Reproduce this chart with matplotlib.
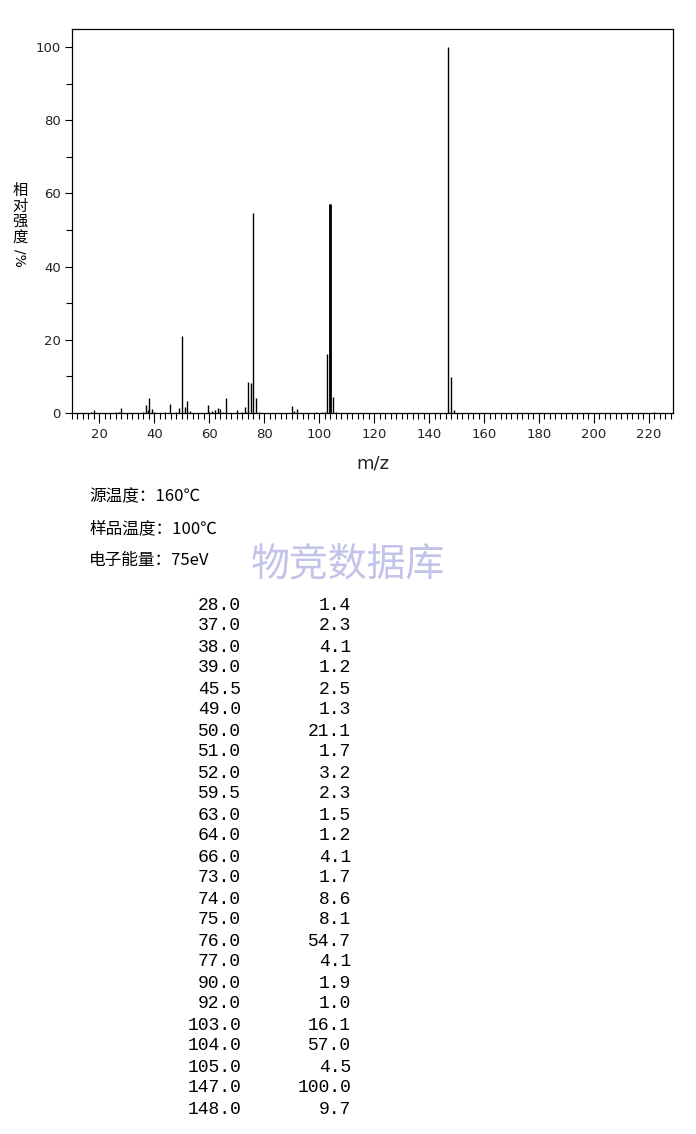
import matplotlib
matplotlib.use("Agg")
import matplotlib.pyplot as plt
from matplotlib.ticker import MultipleLocator

plt.rcParams['font.family'] = ['Noto Sans CJK SC', 'DejaVu Sans']

# peaks listed in the table
mz = [28.0, 37.0, 38.0, 39.0, 45.5, 49.0, 50.0, 51.0, 52.0, 59.5, 63.0, 64.0,
      66.0, 73.0, 74.0, 75.0, 76.0, 77.0, 90.0, 92.0, 103.0, 104.0, 105.0,
      147.0, 148.0]
intensity = [1.4, 2.3, 4.1, 1.2, 2.5, 1.3, 21.1, 1.7, 3.2, 2.3, 1.5, 1.2,
             4.1, 1.7, 8.6, 8.1, 54.7, 4.1, 1.9, 1.0, 16.1, 57.0, 4.5,
             100.0, 9.7]

# small peaks drawn in the spectrum but not listed
minor_mz = [17, 18, 26, 27, 36, 37.5, 40, 44, 48, 53, 60, 61, 62, 65, 70, 72,
            73.5, 78, 91, 99, 101, 102, 106, 149, 222]
minor_int = [0.35, 0.9, 0.35, 0.35, 0.3, 0.8, 0.2, 0.35, 0.4, 0.45, 0.35, 0.55,
             0.8, 0.35, 0.8, 0.35, 0.35, 0.3, 0.5, 0.3, 0.3, 0.3, 0.3, 0.7, 0.3]

conditions = ["源温度：160℃", "样品温度：100℃", "电子能量：75eV"]
ylabel_chars = ["相", "对", "强", "度"]

fig = plt.figure(figsize=(6.96, 11.34), dpi=100)
ax = fig.add_axes([72 / 696, 1 - 413 / 1134, 601 / 696, 384 / 1134])

ax.vlines(mz, 0, intensity, color='black', lw=1.0)
ax.vlines(minor_mz, 0, minor_int, color='black', lw=1.0)
ax.vlines([104.0], 0, [57.0], color='black', lw=2.0)

ax.set_xlim(10, 228.8)
ax.set_ylim(0, 104.9)
ax.xaxis.set_major_locator(MultipleLocator(20))
ax.xaxis.set_minor_locator(MultipleLocator(2))
ax.yaxis.set_major_locator(MultipleLocator(20))
ax.yaxis.set_minor_locator(MultipleLocator(10))
ax.tick_params(axis='x', which='major', direction='out', length=7.5, width=0.8,
               labelsize=9.5, pad=3, colors='black')
ax.tick_params(axis='x', which='minor', direction='out', length=4.5, width=0.8)
ax.tick_params(axis='y', which='major', direction='out', length=5, width=0.8,
               labelsize=9.5, pad=3)
ax.tick_params(axis='y', which='minor', direction='out', length=4, width=0.8)
for lab in ax.get_xticklabels() + ax.get_yticklabels():
    lab.set_family('DejaVu Sans')
    lab.set_color('#222222')
for sp in ax.spines.values():
    sp.set_linewidth(0.9)

ax.set_xlabel('m/z', fontsize=13, family='DejaVu Sans', labelpad=10,
              color='#222222')

# y label: upright characters stacked, then a rotated "/%"
fig.text(20 / 696, 1 - 214 / 1134, "\n".join(ylabel_chars), fontsize=11,
         ha='center', va='center', linespacing=0.88)
fig.text(20 / 696, 1 - 258 / 1134, "/%", fontsize=10, rotation=-90,
         ha='center', va='center', family='DejaVu Sans')

for i, s in enumerate(conditions):
    fig.text(89 / 696, 1 - (497 + 31.5 * i) / 1134, s, fontsize=12,
             ha='left', va='center', family=['Noto Sans CJK SC', 'DejaVu Serif'])

fig.text(348 / 696, 1 - 566 / 1134, "物竞数据库", fontsize=28, color='#c3c3ea',
         ha='center', va='center')

for i, (m, v) in enumerate(zip(mz, intensity)):
    y = 1 - (605 + 21.0 * i) / 1134
    fig.text(241 / 696, y, f"{m:.1f}", fontsize=13, family='Liberation Mono',
             ha='right', va='center')
    fig.text(351 / 696, y, f"{v:.1f}", fontsize=13, family='Liberation Mono',
             ha='right', va='center')

fig.savefig('out.png', dpi=100)
